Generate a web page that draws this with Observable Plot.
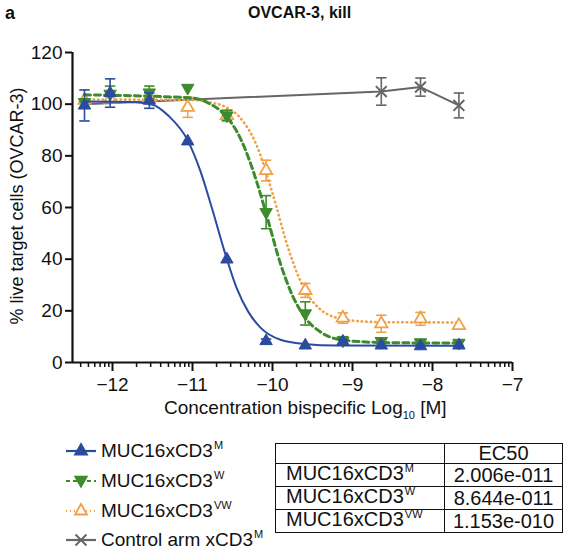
<!DOCTYPE html>
<html>
<head>
<meta charset="utf-8">
<script src="https://cdn.jsdelivr.net/npm/d3@7"></script>
<script src="https://cdn.jsdelivr.net/npm/@observablehq/plot@0.6"></script>
<style>
  body { margin: 0; background: #fff; font-family: "Liberation Sans", Arial, sans-serif; color: #111; }
  #wrap { position: relative; width: 566px; height: 552px; overflow: hidden; }
  #chart { position: absolute; left: 0; top: 0; }
  .abs { position: absolute; white-space: nowrap; }
  sup { font-size: 11px; vertical-align: 0; position: relative; top: -8px; margin-left: 1px; }
  #legend .row { position: absolute; left: 64px; height: 24px; display: flex; align-items: center; font-size: 19px; }
  #legend svg { margin-right: 3px; }
  table { position: absolute; left: 275px; top: 443px; border-collapse: collapse; font-size: 20px; }
  td { border: 1.5px solid #111; height: 19px; padding: 0 6px; line-height: 19px; }
  td.v { text-align: center; width: 105px; }
  td.n { width: 152px; padding-left: 10px; }
</style>
</head>
<body>
<div id="wrap">
  <div id="chart"></div>
  <div class="abs" style="left:5px;top:3px;font-weight:bold;font-size:18px">a</div>
  <div class="abs" style="left:248px;top:4px;font-weight:bold;font-size:16px">OVCAR-3, kill</div>
  <div class="abs" style="left:164px;top:397px;font-size:19px">Concentration bispecific Log<sub style="font-size:11px">10</sub> [M]</div>
  <div class="abs" style="left:17px;top:206px;font-size:18px;transform:translate(-50%,-50%) rotate(-90deg)">% live target cells (OVCAR-3)</div>
  <div id="legend"></div>
  <table>
    <tr><td class="n"></td><td class="v">EC50</td></tr>
    <tr><td class="n">MUC16xCD3<sup>M</sup></td><td class="v">2.006e-011</td></tr>
    <tr><td class="n">MUC16xCD3<sup>W</sup></td><td class="v">8.644e-011</td></tr>
    <tr><td class="n">MUC16xCD3<sup>VW</sup></td><td class="v">1.153e-010</td></tr>
  </table>
</div>
<script>
// concentrations, log10 [M]
const conc = [-12.35, -12.03, -11.54, -11.06, -10.57, -10.08, -9.59, -9.12, -8.64, -8.15, -7.67]

// % live target cells, mean and error
const mucM = [99.5, 104.3, 101.4, 85.6, 39.9, 8.3, 6.6, 8.1, 6.6, 6.3, 6.6]
const mucMErr = [6, 5.5, 3, 0, 0, 0.8, 0, 0.8, 0, 0, 0]
const mucW = [100.8, 104, 104.5, 106.3, 95.6, 58.2, 19, 8.5, 8.3, 7.8, 7.6]
const mucWErr = [0, 3, 2.5, 0, 2, 6.4, 4.5, 1.5, 1, 1, 1]
const mucVW = [101.5, 102, 102.5, 98.8, 95.6, 74.3, 27.9, 17.2, 15, 16.9, 14.3]
const mucVWErr = [0, 0, 0, 3.9, 2, 4, 2.7, 2, 3.3, 2.5, 0]

// control arm
const ctrlConc = [-12.35, -8.64, -8.15, -7.67]
const ctrl = [100, 104.9, 106.6, 99.5]
const ctrlErr = [0, 5.3, 3.5, 4.8]

// fitted curves
const fitMx = [-12.35, -11.8, -11.5, -11.3, -11.06, -10.9, -10.75, -10.6, -10.45, -10.3, -10.15, -9.9, -9.6, -9.2, -7.67]
const fitMy = [101, 100.8, 99.8, 95.5, 86, 74, 59, 43, 29, 19.5, 13.5, 8.8, 7.2, 6.6, 6.5]
const fitWx = [-12.35, -11.0, -10.8, -10.6, -10.4, -10.2, -10.06, -9.9, -9.75, -9.6, -9.4, -9.1, -8.6, -7.67]
const fitWy = [103.6, 102.4, 100.4, 96, 86.7, 70.2, 55.5, 38.2, 25.9, 17.7, 11.8, 8.6, 7.7, 7.5]
const fitVWx = [-12.35, -11.0, -10.8, -10.6, -10.4, -10.2, -10.0, -9.8, -9.6, -9.4, -9.2, -9.0, -8.6, -7.67]
const fitVWy = [101.8, 101.6, 100.8, 99.1, 94.6, 84.2, 65.5, 43.9, 28.3, 20.5, 17.3, 16.2, 15.6, 15.5]

const xTicks = [-12, -11, -10, -9, -8, -7]
const yTicks = [0, 20, 40, 60, 80, 100, 120]

const blue = '#2b4b9e', green = '#3d8b2c', orange = '#f0a045', gray = '#666666'

const pts = (xs, ys, es) => xs.map((x, i) => ({ x, y: ys[i], e: es[i] }))
const fit = (xs, ys) => xs.map((x, i) => ({ x, y: ys[i] }))

const M = pts(conc, mucM, mucMErr)
const W = pts(conc, mucW, mucWErr)
const VW = pts(conc, mucVW, mucVWErr)
const C = pts(ctrlConc, ctrl, ctrlErr)

// log minor ticks
const minor = []
for (let n = -13; n < -7; n++) {
  for (let k = 2; k <= 9; k++) {
    const v = n + Math.log10(k)
    if (v >= -12.5 && v <= -7) minor.push(v)
  }
}

const errMarks = (data, color) => {
  const d = data.filter(p => p.e > 0)
  return [
    Plot.ruleX(d, { x: 'x', y1: p => p.y - p.e, y2: p => p.y + p.e, stroke: color, strokeWidth: 1.6 }),
    Plot.link(d, { x1: p => p.x - 0.065, x2: p => p.x + 0.065, y1: p => p.y + p.e, y2: p => p.y + p.e, stroke: color, strokeWidth: 1.6 }),
    Plot.link(d, { x1: p => p.x - 0.065, x2: p => p.x + 0.065, y1: p => p.y - p.e, y2: p => p.y - p.e, stroke: color, strokeWidth: 1.6 }),
  ]
}

const chart = Plot.plot({
  width: 566,
  height: 430,
  marginTop: 52,
  marginLeft: 72,
  marginRight: 54,
  marginBottom: 68,
  x: { domain: [-12.5, -7] },
  y: { domain: [0, 120] },
  style: { fontFamily: '"Liberation Sans", Arial, sans-serif', fontSize: '19px', color: '#111', background: 'transparent' },
  marks: [
    Plot.axisY({ ticks: yTicks, tickSize: 7, tickPadding: 3, label: null, strokeWidth: 2, fontSize: 19 }),
    Plot.axisX({ ticks: minor, tickSize: 5, tickFormat: () => '', label: null, strokeWidth: 1.5 }),
    Plot.axisX({ ticks: xTicks, tickSize: 9, tickPadding: 6, tickFormat: d3.format('d'), label: null, strokeWidth: 2, fontSize: 19 }),
    Plot.ruleY([0], { strokeWidth: 2.2, stroke: '#111' }),
    Plot.ruleX([-12.5], { strokeWidth: 2.2, stroke: '#111' }),

    // control arm
    Plot.line(C, { x: 'x', y: 'y', stroke: gray, strokeWidth: 2 }),
    ...errMarks(C, gray),
    Plot.dot(C.slice(1), { x: 'x', y: 'y', symbol: 'times', r: 5, stroke: gray, strokeWidth: 2 }),

    // very weak
    Plot.line(fit(fitVWx, fitVWy), { x: 'x', y: 'y', curve: 'monotone-x', stroke: orange, strokeWidth: 2.6, strokeDasharray: '0.5,4', strokeLinecap: 'round' }),
    ...errMarks(VW, orange),
    Plot.dot(VW, { x: 'x', y: 'y', symbol: 'triangle', r: 4.6, stroke: orange, fill: 'white', strokeWidth: 1.8 }),

    // weak
    Plot.line(fit(fitWx, fitWy), { x: 'x', y: 'y', curve: 'monotone-x', stroke: green, strokeWidth: 3, strokeDasharray: '6,4' }),
    ...errMarks(W, green),
    Plot.dot(W, { x: 'x', y: 'y', symbol: 'triangle', rotate: 180, r: 4.6, fill: green, stroke: green, strokeWidth: 1 }),

    // medium
    Plot.line(fit(fitMx, fitMy), { x: 'x', y: 'y', curve: 'monotone-x', stroke: blue, strokeWidth: 2 }),
    ...errMarks(M, blue),
    Plot.dot(M, { x: 'x', y: 'y', symbol: 'triangle', r: 4.6, fill: blue, stroke: blue, strokeWidth: 1 }),
  ],
})

d3.select('#chart').append(() => chart)

// legend
const legendItems = [
  { label: 'MUC16xCD3', sup: 'M', color: blue, dash: null, marker: 'up', fill: blue },
  { label: 'MUC16xCD3', sup: 'W', color: green, dash: '4,3', marker: 'down', fill: green },
  { label: 'MUC16xCD3', sup: 'VW', color: orange, dash: '1,3', marker: 'up', fill: 'white' },
  { label: 'Control arm xCD3', sup: 'M', color: gray, dash: null, marker: 'x', fill: 'none' },
]
const legendY = [439, 469, 499, 528]
const leg = d3.select('#legend')
legendItems.forEach((it, i) => {
  const row = leg.append('div').attr('class', 'row').style('top', legendY[i] + 'px')
  const s = row.append('svg').attr('width', 34).attr('height', 20)
  s.append('line').attr('x1', 2).attr('x2', 32).attr('y1', 10).attr('y2', 10)
    .attr('stroke', it.color).attr('stroke-width', 2.2)
    .attr('stroke-dasharray', it.dash)
  if (it.marker === 'up') {
    s.append('path').attr('d', 'M17,3 L23,13.5 L11,13.5 Z').attr('fill', it.fill).attr('stroke', it.color).attr('stroke-width', 1.8)
  } else if (it.marker === 'down') {
    s.append('path').attr('d', 'M17,16 L23,5.5 L11,5.5 Z').attr('fill', it.fill).attr('stroke', it.color).attr('stroke-width', 1.5)
  } else {
    s.append('path').attr('d', 'M11.5,4.5 L22.5,15.5 M22.5,4.5 L11.5,15.5').attr('stroke', it.color).attr('stroke-width', 2)
  }
  row.append('span').html(it.label + '<sup>' + it.sup + '</sup>')
})
</script>
</body>
</html>
